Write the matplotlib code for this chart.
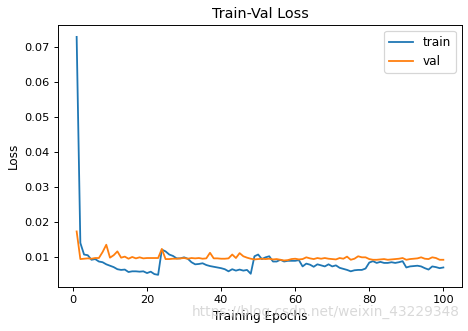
import numpy as np
import matplotlib
matplotlib.use("Agg")
import matplotlib.pyplot as plt

# loss values, epochs 1..100
epochs = list(range(1, 101))

train_loss = [
    0.0730, 0.0141, 0.0108, 0.0106, 0.0093, 0.0095, 0.0088, 0.0086, 0.0080, 0.0076,
    0.0072, 0.0066, 0.0064, 0.0065, 0.0058, 0.0060, 0.0060, 0.0059, 0.0060, 0.0055,
    0.0059, 0.0052, 0.0050, 0.0122, 0.0117, 0.0108, 0.0104, 0.0097, 0.0097, 0.0100,
    0.0096, 0.0086, 0.0080, 0.0081, 0.0083, 0.0078, 0.0075, 0.0073, 0.0071, 0.0069,
    0.0066, 0.0060, 0.0066, 0.0062, 0.0065, 0.0062, 0.0064, 0.0053, 0.0103, 0.0108,
    0.0095, 0.0100, 0.0103, 0.0088, 0.0088, 0.0093, 0.0088, 0.0090, 0.0090, 0.0090,
    0.0092, 0.0074, 0.0082, 0.0079, 0.0073, 0.0080, 0.0077, 0.0074, 0.0080, 0.0074,
    0.0077, 0.0070, 0.0067, 0.0064, 0.0060, 0.0063, 0.0064, 0.0064, 0.0068, 0.0085,
    0.0089, 0.0084, 0.0087, 0.0084, 0.0084, 0.0086, 0.0084, 0.0086, 0.0089, 0.0071,
    0.0074, 0.0075, 0.0076, 0.0074, 0.0069, 0.0065, 0.0074, 0.0072, 0.0069, 0.0071,
]

val_loss = [
    0.0174, 0.0095, 0.0096, 0.0097, 0.0096, 0.0098, 0.0098, 0.0115, 0.0136, 0.0099,
    0.0106, 0.0117, 0.0099, 0.0102, 0.0096, 0.0101, 0.0097, 0.0100, 0.0097, 0.0098,
    0.0098, 0.0098, 0.0098, 0.0124, 0.0095, 0.0095, 0.0096, 0.0096, 0.0097, 0.0098,
    0.0096, 0.0098, 0.0097, 0.0098, 0.0096, 0.0097, 0.0113, 0.0097, 0.0097, 0.0096,
    0.0096, 0.0097, 0.0108, 0.0098, 0.0112, 0.0103, 0.0099, 0.0096, 0.0094, 0.0095,
    0.0096, 0.0095, 0.0096, 0.0094, 0.0095, 0.0093, 0.0091, 0.0092, 0.0095, 0.0096,
    0.0094, 0.0095, 0.0100, 0.0097, 0.0095, 0.0098, 0.0096, 0.0098, 0.0096, 0.0095,
    0.0094, 0.0098, 0.0096, 0.0102, 0.0093, 0.0096, 0.0103, 0.0100, 0.0100, 0.0095,
    0.0093, 0.0093, 0.0094, 0.0095, 0.0093, 0.0094, 0.0095, 0.0096, 0.0098, 0.0093,
    0.0095, 0.0096, 0.0097, 0.0100, 0.0096, 0.0095, 0.0100, 0.0098, 0.0093, 0.0093,
]

# the reference looks like a 72 dpi figure scaled up by ~1.2
dpi = 86.4
fig = plt.figure(figsize=(468 / dpi, 331 / dpi), dpi=dpi)
ax = fig.add_axes([0.1246, 0.1338, 0.8619, 0.7907])

ax.plot(epochs, train_loss, label="train")
ax.plot(epochs, val_loss, label="val")
ax.set_title("Train-Val Loss")
ax.set_xlabel("Training Epochs")
ax.set_ylabel("Loss")
ax.tick_params(labelsize=9.5)
ax.legend(loc="upper right")

# csdn watermark in the lower right corner
fig.text(0.982, 0.035, "https://blog.csdn.net/weixin_43229348", ha="right", va="bottom",
         fontsize=11.5, color="#d0d0d0", alpha=0.8)

fig.savefig("out.png", dpi=dpi)
